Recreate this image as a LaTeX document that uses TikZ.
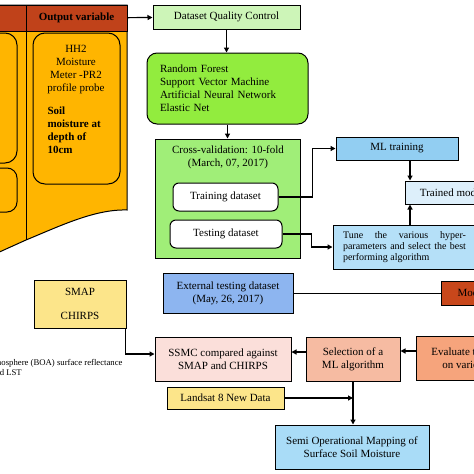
\documentclass[tikz,border=0pt]{standalone}
\usepackage{fontspec}
\setmainfont{Liberation Serif}
\usepackage{tikz}
\usetikzlibrary{arrows.meta}
\usepackage{xcolor}
\definecolor{headred}{HTML}{C0421A}
\definecolor{colorange}{HTML}{FFB500}
\definecolor{dqcgreen}{HTML}{CDF5B8}
\definecolor{mlgreen}{HTML}{92EC3E}
\definecolor{cvgreen}{HTML}{A0EE78}
\definecolor{mlblue}{HTML}{92CEF2}
\definecolor{paleblue}{HTML}{DDEFFB}
\definecolor{tuneblue}{HTML}{B5E0F8}
\definecolor{extblue}{HTML}{8DB5F0}
\definecolor{moorange}{HTML}{C8471B}
\definecolor{smapyellow}{HTML}{FCE58A}
\definecolor{ssmcpink}{HTML}{FBDFDA}
\definecolor{selsalmon}{HTML}{F6BBA2}
\definecolor{evalorange}{HTML}{F6A47C}
\definecolor{semiblue}{HTML}{A9DCF7}

\begin{document}
\begin{tikzpicture}[x=1pt,y=-1pt,>={Triangle[length=5pt,width=5pt]},line width=1pt,
  every node/.style={font=\fontsize{11}{13}\selectfont},
  box/.style={draw,align=center,inner sep=2pt},
  conn/.style={->,line width=1.2pt}]
\useasboundingbox (0,0) rectangle (474,474);
\clip (0,0) rectangle (474,474);
% variables column
\draw[fill=colorange] (-5,5) -- (127,5) -- (127,210) .. controls (95,209) and (60,226) .. (26,240) -- (-5,254) -- cycle;
\draw[fill=headred] (-5,5) rectangle (26,31);
\draw (26,31) -- (26,240);
\draw[fill=colorange,rounded corners=12pt] (-20,33) rectangle (17,163);
\draw[fill=colorange,rounded corners=10pt] (-20,168) rectangle (17,212);
\node[box,fill=headred,minimum width=101pt,minimum height=26pt,font=\fontsize{11}{13}\selectfont\bfseries] (outvar) at (76.5,18) {Output variable};
\draw[fill=colorange,rounded corners=12pt] (33,33) rectangle (120,184);
\node[align=center] (probe) at (76,70) {HH2\\Moisture\\Meter -PR2\\profile probe};
\node[anchor=west,align=left,inner sep=0pt,font=\fontsize{11}{13}\selectfont\bfseries] (soil) at (47,130.5) {Soil\\moisture at\\depth of\\10cm};
% modelling chain
\node[box,fill=dqcgreen,minimum width=147pt,minimum height=24pt] (dqc) at (226.5,17) {Dataset Quality Control};
\draw[conn] (outvar) -- (dqc);
\node[box,fill=mlgreen,rounded corners=10pt,minimum width=161pt,minimum height=71pt,align=left,text width=135pt,inner xsep=13pt] (models) at (227.5,88.5) {Random Forest\\Support Vector Machine\\Artificial Neural Network\\Elastic Net};
\draw[conn] (dqc) -- (dqc |- models.north);
\node[box,fill=cvgreen,minimum width=145pt,minimum height=119pt] (cv) at (227.5,198.5) {};
\draw[conn] (models) -- (models |- cv.north);
\node[align=center] (cvtitle) at (228,157) {Cross-validation: 10-fold\\(March, 07, 2017)};
\node[box,fill=white,rounded corners=6pt,minimum width=105pt,minimum height=28pt] (train) at (225.5,197) {Training dataset};
\node[box,fill=white,rounded corners=6pt,minimum width=112pt,minimum height=28pt] (test) at (226,234) {Testing dataset};
\node[box,fill=mlblue,minimum width=122pt,minimum height=23pt] (mltrain) at (397,148.5) {ML training};
\node[box,fill=paleblue,minimum width=94pt,minimum height=23pt] (trained) at (452,192.5) {Trained model};
\node[box,fill=tuneblue,minimum height=44pt,text width=123pt,inner xsep=10pt,align=justify,font=\fontsize{10}{11}\selectfont] (tune) at (404.5,247) {Tune the various hyper-\linebreak parameters and select the best performing algorithm};
\draw[conn] (train.east) -- ++(34,0) |- (mltrain.west);
\draw[conn] (test.east) -- ++(29,0) |- (tune.west);
\coordinate (vx) at (410,0);
\draw[conn] (vx |- mltrain.south) -- (vx |- trained.north);
\draw[conn] (vx |- tune.north) -- (vx |- trained.south);
% testing and mapping
\node[box,fill=extblue,minimum width=130pt,minimum height=40pt] (ext) at (228,293.5) {External testing dataset\\(May, 26, 2017)};
\node[box,fill=moorange,minimum width=94pt,minimum height=24pt] (modtest) at (488,293.5) {Model testing};
\draw[line width=1.2pt] (ext.east) -- (modtest.west);
\node[box,fill=smapyellow,minimum width=92pt,minimum height=48pt,font=\fontsize{11}{24}\selectfont] (smap) at (80,304) {SMAP\\CHIRPS};
\node[anchor=north east,align=left,inner sep=0pt,font=\fontsize{8.7}{9.5}\selectfont] (boa) at (123,359) {Bottom of Atmosphere (BOA) surface reflectance\\Landsat derived LST};
\node[box,fill=ssmcpink,minimum width=136pt,minimum height=44pt] (ssmc) at (223,359) {SSMC compared against\\SMAP and CHIRPS};
\node[box,fill=selsalmon,minimum width=94pt,minimum height=44pt] (sel) at (353,359) {Selection of a\\ML algorithm};
\node[box,fill=evalorange,minimum width=120pt,minimum height=44pt] (eval) at (476,358) {Evaluate the models\\on various data};
\node[box,fill=smapyellow,minimum width=117pt,minimum height=22pt] (landsat) at (225.5,398) {Landsat 8 New Data};
\node[box,fill=semiblue,minimum width=154pt,minimum height=44pt] (semi) at (352,447) {Semi Operational Mapping of\\Surface Soil Moisture};
\draw[conn] ([xshift=-1pt]smap.south east) |- ([yshift=5pt]ssmc.west);
\draw[conn] ([yshift=7pt]eval.west) -- ([yshift=7pt]eval.west -| sel.east);
\draw[conn] ([yshift=7pt]sel.west) -- ([yshift=7pt]sel.west -| ssmc.east);
\draw[conn] (sel.south) -- (sel.south |- semi.north);
\draw[conn] (landsat.east) -- (landsat.east -| sel.south);
\end{tikzpicture}
\end{document}
